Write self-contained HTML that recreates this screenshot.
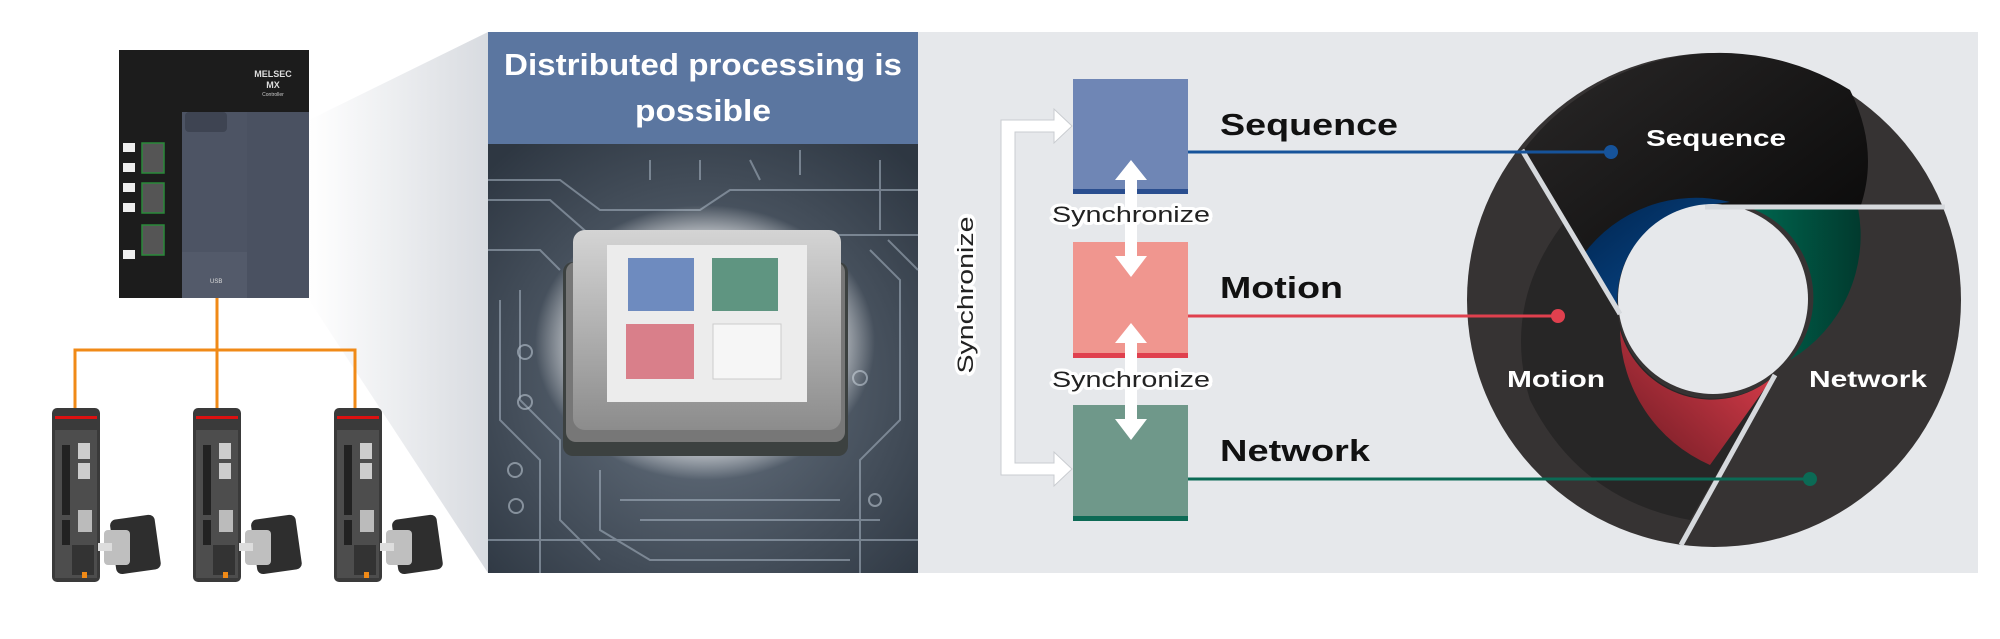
<!DOCTYPE html>
<html><head><meta charset="utf-8"><style>
html,body{margin:0;padding:0;background:#fff;width:2000px;height:639px;overflow:hidden}
svg{display:block}
text{font-family:"Liberation Sans",sans-serif}
</style></head><body>
<svg width="2000" height="639" viewBox="0 0 2000 639" xmlns="http://www.w3.org/2000/svg">
<defs>
<linearGradient id="wedge" x1="0" x2="1" y1="0" y2="0"><stop offset="0" stop-color="#fff"/><stop offset="1" stop-color="#d8dbe0"/></linearGradient>
<radialGradient id="board" cx="0.5" cy="0.55" r="0.7"><stop offset="0" stop-color="#6a7684"/><stop offset="1" stop-color="#2e3742"/></radialGradient>
<radialGradient id="glow" cx="0.5" cy="0.5" r="0.5"><stop offset="0.65" stop-color="#fff" stop-opacity="0.95"/><stop offset="1" stop-color="#fff" stop-opacity="0"/></radialGradient>
<linearGradient id="chip" x1="0" y1="0" x2="0" y2="1"><stop offset="0" stop-color="#d4d4d4"/><stop offset="1" stop-color="#8c8c8c"/></linearGradient>
<linearGradient id="bl" x1="0" y1="0" x2="1" y2="1"><stop offset="0" stop-color="#00244e"/><stop offset="1" stop-color="#0b4f96"/></linearGradient>
<linearGradient id="gr" x1="0" y1="0" x2="1" y2="0"><stop offset="0" stop-color="#00664f"/><stop offset="1" stop-color="#013a2e"/></linearGradient>
<linearGradient id="rd" x1="1" y1="0" x2="0" y2="1"><stop offset="0" stop-color="#e84150"/><stop offset="1" stop-color="#6a1a22"/></linearGradient>
<linearGradient id="topdark" x1="0" y1="0" x2="1" y2="1"><stop offset="0" stop-color="#2a2828"/><stop offset="1" stop-color="#050505"/></linearGradient>
</defs>
<rect width="2000" height="639" fill="#fff"/>
<polygon points="309,120 488,32 488,573 309,300" fill="url(#wedge)"/>
<rect x="918" y="32" width="1060" height="541" fill="#e6e8eb"/>
<rect x="488" y="144" width="430" height="429" fill="url(#board)"/>
<g stroke="#a9b6c4" stroke-width="2" fill="none" opacity="0.55">
<path d="M488,180 L560,180 L600,210 L700,210 L730,190 L918,190"/>
<path d="M488,200 L550,200 L590,235 L918,235"/>
<path d="M488,250 L540,250 L560,270"/>
<path d="M520,290 L520,400 L560,440 L560,520 L600,560"/>
<path d="M500,300 L500,420 L540,460 L540,573"/>
<path d="M870,250 L900,280 L900,420 L860,460 L860,573"/>
<path d="M888,240 L918,270"/>
<path d="M600,470 L600,530 L650,560 L850,560"/>
<path d="M620,500 L840,500"/>
<path d="M640,520 L880,520"/>
<path d="M488,540 L918,540"/>
<path d="M650,160 L650,180 M700,160 L700,180 M750,160 L760,180 M800,150 L800,175"/>
<path d="M880,160 L880,230"/>
</g>
<g fill="none" stroke="#b8c3ce" stroke-width="2" opacity="0.6">
<circle cx="525" cy="352" r="7"/><circle cx="525" cy="402" r="7"/><circle cx="860" cy="378" r="7"/><circle cx="515" cy="470" r="7"/><circle cx="516" cy="506" r="7"/><circle cx="875" cy="500" r="6"/>
</g>
<rect x="488" y="32" width="430" height="112" fill="#5b76a0"/>
<text x="703" y="75" text-anchor="middle" font-size="31" font-weight="bold" fill="#fff" textLength="398" lengthAdjust="spacingAndGlyphs">Distributed processing is</text>
<text x="703" y="121" text-anchor="middle" font-size="31" font-weight="bold" fill="#fff" textLength="136" lengthAdjust="spacingAndGlyphs">possible</text>
<rect x="535" y="205" width="340" height="275" rx="40" fill="url(#glow)"/>
<rect x="563" y="262" width="285" height="194" rx="10" fill="#3c4140"/>
<rect x="566" y="262" width="279" height="180" rx="10" fill="#777"/>
<rect x="573" y="230" width="268" height="200" rx="12" fill="url(#chip)"/>
<rect x="607" y="245" width="200" height="157" fill="#ececec"/>
<rect x="628" y="258" width="66" height="53" fill="#6e8bbf"/>
<rect x="712" y="258" width="66" height="53" fill="#5f9581"/>
<rect x="626" y="324" width="68" height="55" fill="#d97f8a"/>
<rect x="713" y="324" width="68" height="55" fill="#f6f6f6" stroke="#ccc"/>
<rect x="119" y="50" width="190" height="248" fill="#1c1c1c"/>
<rect x="182" y="112" width="65" height="186" fill="#4d5464"/>
<rect x="247" y="112" width="62" height="186" fill="#4a5161"/>
<rect x="182" y="252" width="65" height="46" fill="#535a6a"/>
<rect x="185" y="112" width="42" height="20" rx="4" fill="#3e4452"/>
<g fill="#555" stroke="#2a8a3a" stroke-width="1.5"><rect x="142" y="143" width="22" height="30"/><rect x="142" y="183" width="22" height="30"/><rect x="142" y="225" width="22" height="30"/></g>
<g fill="#eee"><rect x="123" y="143" width="12" height="9"/><rect x="123" y="163" width="12" height="9"/><rect x="123" y="183" width="12" height="9"/><rect x="123" y="203" width="12" height="9"/><rect x="123" y="250" width="12" height="9"/></g>
<text x="273" y="77" text-anchor="middle" font-size="9" font-weight="bold" fill="#ddd">MELSEC</text>
<text x="273" y="88" text-anchor="middle" font-size="9" font-weight="bold" fill="#ddd">MX</text>
<text x="273" y="96" text-anchor="middle" font-size="5" fill="#ccc">Controller</text>
<text x="210" y="283" font-size="6" fill="#ddd">USB</text>
<g stroke="#f08a17" stroke-width="3" fill="none">
<path d="M217,298 V350 M75,409 V350 H355 V409 M217,350 V409"/>
</g>
<g id="sv">
<rect x="52" y="408" width="48" height="174" rx="5" fill="#3a3a3a"/>
<rect x="55" y="416" width="42" height="3" fill="#d11"/>
<rect x="55" y="430" width="42" height="148" fill="#4d4d4d"/>
<rect x="62" y="445" width="8" height="70" fill="#222"/>
<rect x="62" y="520" width="8" height="25" fill="#222"/>
<rect x="78" y="443" width="12" height="16" fill="#ccc"/><rect x="78" y="463" width="12" height="16" fill="#ccc"/>
<rect x="78" y="510" width="14" height="22" fill="#bbb"/>
<rect x="72" y="545" width="22" height="30" fill="#333"/>
<rect x="82" y="572" width="5" height="6" fill="#f08a17"/>
<rect x="113" y="517" width="45" height="55" rx="6" fill="#2e2e2e" transform="rotate(-8 135 545)"/>
<rect x="104" y="530" width="26" height="35" rx="4" fill="#bfbfbf"/>
<rect x="98" y="543" width="14" height="8" fill="#ddd"/>
</g>
<use href="#sv" x="141"/>
<use href="#sv" x="282"/>
<g fill="#fff" stroke="#c9ccd0" stroke-width="1">
<path d="M1001,120 H1054 V109 L1072,126 L1054,143 V132 H1015 V463 H1054 V452 L1072,469 L1054,486 V475 H1001 Z"/>
</g>
<rect x="1073" y="79" width="115" height="115" fill="#6f86b5"/><rect x="1073" y="189" width="115" height="5" fill="#2a4e8f"/>
<rect x="1073" y="242" width="115" height="116" fill="#f0968f"/><rect x="1073" y="353" width="115" height="5" fill="#e0404e"/>
<rect x="1073" y="405" width="115" height="116" fill="#6f988a"/><rect x="1073" y="516" width="115" height="5" fill="#0d6a55"/>
<g fill="#fff">
<path d="M1131,160 L1147,180 H1137 V256 H1147 L1131,277 L1115,256 H1125 V180 H1115 Z"/>
<path d="M1131,323 L1147,343 H1137 V419 H1147 L1131,440 L1115,419 H1125 V343 H1115 Z"/>
</g>
<g font-size="22" text-anchor="middle" fill="#222" stroke="#fff" stroke-width="6" paint-order="stroke" stroke-linejoin="round">
<text x="1131" y="222" textLength="158" lengthAdjust="spacingAndGlyphs">Synchronize</text>
<text x="1131" y="387" textLength="158" lengthAdjust="spacingAndGlyphs">Synchronize</text>
<text x="0" y="0" transform="translate(973 295) rotate(-90)" textLength="157" lengthAdjust="spacingAndGlyphs">Synchronize</text>
</g>
<g font-size="31" font-weight="bold" fill="#111">
<text x="1220" y="135" textLength="178" lengthAdjust="spacingAndGlyphs">Sequence</text>
<text x="1220" y="298" textLength="123" lengthAdjust="spacingAndGlyphs">Motion</text>
<text x="1220" y="461" textLength="150" lengthAdjust="spacingAndGlyphs">Network</text>
</g>
<circle cx="1714" cy="300" r="247" fill="#363333"/>
<path d="M1522,152 A247,247 0 0 1 1850,90 Q1880,150 1860,208 L1700,206 A95,95 0 0 0 1618,312 Z" fill="url(#topdark)"/>
<path d="M1570,215 Q1500,300 1530,400 Q1580,500 1690,520 L1773,377 A95,95 0 0 1 1618,312 Z" fill="#1c1c1c" opacity="0.55"/>
<path d="M1583,255 A140,140 0 0 1 1730,202 L1700,206 A95,95 0 0 0 1618,312 Z" fill="url(#bl)"/>
<path d="M1750,208 L1858,208 A145,145 0 0 1 1790,360 A95,95 0 0 0 1750,208 Z" fill="url(#gr)"/>
<path d="M1773,377 L1710,465 A150,150 0 0 1 1620,330 A95,95 0 0 0 1773,377 Z" fill="url(#rd)"/>
<circle cx="1713" cy="299" r="95" fill="#e6e8eb"/>
<g stroke="#d6d9dd" stroke-width="5" fill="none">
<path d="M1522,150 L1620,314"/>
<path d="M1705,207 H1945"/>
<path d="M1775,375 L1681,545"/>
</g>
<g stroke-width="3" fill="none">
<path d="M1188,152 H1611" stroke="#16539a"/>
<path d="M1188,316 H1558" stroke="#e0404e"/>
<path d="M1188,479 H1810" stroke="#0b6a55"/>
</g>
<circle cx="1611" cy="152" r="7" fill="#16539a"/>
<circle cx="1558" cy="316" r="7" fill="#e0404e"/>
<circle cx="1810" cy="479" r="7" fill="#0b6a55"/>
<g font-size="23" font-weight="bold" fill="#fff" text-anchor="middle">
<text x="1716" y="146" textLength="140" lengthAdjust="spacingAndGlyphs">Sequence</text>
<text x="1556" y="387" textLength="98" lengthAdjust="spacingAndGlyphs">Motion</text>
<text x="1868" y="387" textLength="118" lengthAdjust="spacingAndGlyphs">Network</text>
</g>
</svg>
</body></html>
